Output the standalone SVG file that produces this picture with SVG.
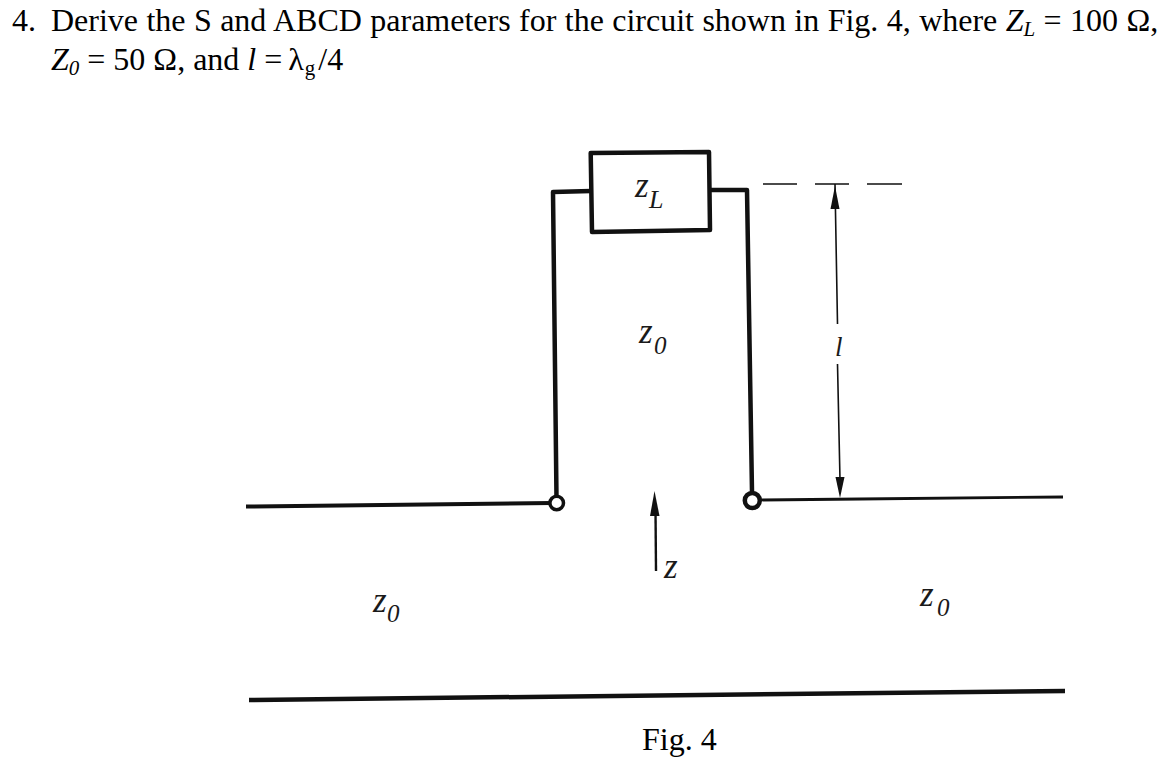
<svg xmlns="http://www.w3.org/2000/svg" width="1168" height="774" viewBox="0 0 1168 774">
<style>
.t{font-family:"Liberation Serif","Times New Roman",serif;font-size:32px;fill:#000}
.i{font-style:italic}
.sub{font-style:italic;font-size:21px}
.d{font-family:"Liberation Serif","Times New Roman",serif;font-style:italic;font-size:35px;fill:#1a1a1a}
.o{font-size:25px}
.w{fill:none;stroke:#111;stroke-width:4.500;stroke-linejoin:round}
.n{fill:none;stroke:#111;stroke-width:1.600}
.a{fill:#111}
</style>
<rect width="1168" height="774" fill="#fff"/>
<text class="t" x="12" y="31">4.</text>
<text class="t" x="51" y="31" word-spacing="0.400">Derive the S and ABCD parameters for the circuit shown in Fig. 4, where <tspan class="i">Z</tspan><tspan class="sub" dy="5">L</tspan><tspan dy="-5"> = 100 Ω,</tspan></text>
<text class="t" x="51" y="70"><tspan class="i">Z</tspan><tspan class="sub" dy="5">0</tspan><tspan dy="-5"> = 50 Ω, and </tspan><tspan class="i">l</tspan> = <tspan dx="-2">λ</tspan><tspan font-size="21" dy="5" dx="1">g</tspan><tspan dy="-5" dx="3">/4</tspan></text>
<g id="connectors">
<path class="w" style="stroke-width:4" d="M246 506.500 L552 503"/>
<path class="w" d="M556.500 498 L553 192 L591 191"/>
<path class="w" d="M710 190 L747 190 L752 492"/>
<path class="w" style="stroke-width:2.800" d="M760 500 L860 499 L1063 497"/>
<path class="w" d="M249 700 L1065 691"/>
<path class="n" d="M763 184 H797 M815 184 H849 M867 184 H902"/>
<path class="n" d="M835 184 L837.500 324 M837.500 364 L840 480"/>
<path class="a" d="M835 186 L839.500 209 L830.500 209 Z"/>
<path class="a" d="M840 498 L835.500 477 L844.500 477 Z"/>
<path class="n" style="stroke-width:2.400" d="M655.500 510 L656 571"/>
<path class="a" d="M654.500 491 L659.500 516 L650 516 Z"/>
</g>
<g id="node-zl">
<path d="M590.700 153 L709 152 L710 230 L592 232 Z" fill="#fff" stroke="#111" stroke-width="4.500" stroke-linejoin="round"/>
<text class="d" x="635" y="197">z</text>
<text class="d" style="font-size:26px" x="649" y="208">L</text>
</g>
<g id="node-port-left"><circle cx="556.700" cy="503" r="6.800" fill="#fff" stroke="#111" stroke-width="3.500"/></g>
<g id="node-port-right"><circle cx="752.300" cy="500.500" r="7.500" fill="#fff" stroke="#111" stroke-width="4.500"/></g>
<g id="label-z0-mid"><text class="d" x="639" y="343">z</text><text class="d o" x="654" y="354">0</text></g>
<text class="d" style="font-size:27px" x="835" y="356">l</text>
<text class="d" x="664" y="578">z</text>
<g id="label-z0-left"><text class="d" x="373" y="612">z</text><text class="d o" x="387" y="622">0</text></g>
<g id="label-z0-right"><text class="d" x="920" y="606">z</text><text class="d o" x="937" y="616">0</text></g>
<text class="t" x="642" y="750">Fig. 4</text>
</svg>
